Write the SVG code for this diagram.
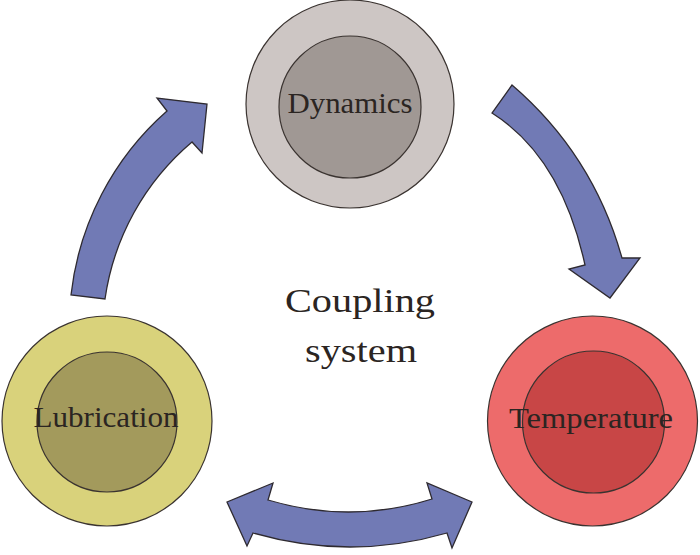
<svg xmlns="http://www.w3.org/2000/svg" width="700" height="555" viewBox="0 0 700 555">
<style>
.ring{stroke:#3a3330;stroke-width:1.2}
.lbl{font-family:"Liberation Serif","DejaVu Serif",serif;font-size:30px;fill:#2b2522;text-anchor:middle}
.ctr{font-family:"Liberation Serif","DejaVu Serif",serif;font-size:34px;fill:#2b2522;text-anchor:middle}
.arr{fill:#717ab5;stroke:#2e2a30;stroke-width:1.3;stroke-linejoin:miter}
</style>
<rect width="700" height="555" fill="#ffffff"/>
<g id="connectors">
<path class="arr" d="M71,295 A287,287 0 0 1 167,111 L157,98 L207,104 L202,153 L192,142 A252,252 0 0 0 105,299 Z"/>
<path class="arr" d="M512,85 Q593,154.5 622,258 L640,258 L610,298 L569,269 L585,265 Q561.5,157 492,113 Z"/>
<path class="arr" d="M268,500 Q350,524.5 432,499 L427,483 L472,502 L452,548 L447,533 Q350,561 253,533 L247,546 L227,502 L273,483 Z"/>
</g>
<g id="dynamics">
<circle class="ring" cx="350" cy="104" r="104" fill="#cdc6c4"/>
<circle class="ring" cx="350" cy="107" r="71" fill="#a09894"/>
<text class="lbl" x="350" y="113" textLength="125" lengthAdjust="spacingAndGlyphs">Dynamics</text>
</g>
<g id="lubrication">
<circle class="ring" cx="107" cy="421" r="105" fill="#d9d27b"/>
<circle class="ring" cx="107" cy="422" r="70" fill="#a39a5c"/>
<text class="lbl" x="106" y="427" textLength="145" lengthAdjust="spacingAndGlyphs">Lubrication</text>
</g>
<g id="temperature">
<circle class="ring" cx="592.5" cy="421" r="105" fill="#ed6b6b"/>
<circle class="ring" cx="593.5" cy="422" r="71" fill="#c84646"/>
<text class="lbl" x="591" y="428" textLength="164" lengthAdjust="spacingAndGlyphs">Temperature</text>
</g>
<g id="center-label">
<text class="ctr" x="360" y="312" textLength="150" lengthAdjust="spacingAndGlyphs">Coupling</text>
<text class="ctr" x="361" y="362" textLength="112" lengthAdjust="spacingAndGlyphs">system</text>
</g>
</svg>
